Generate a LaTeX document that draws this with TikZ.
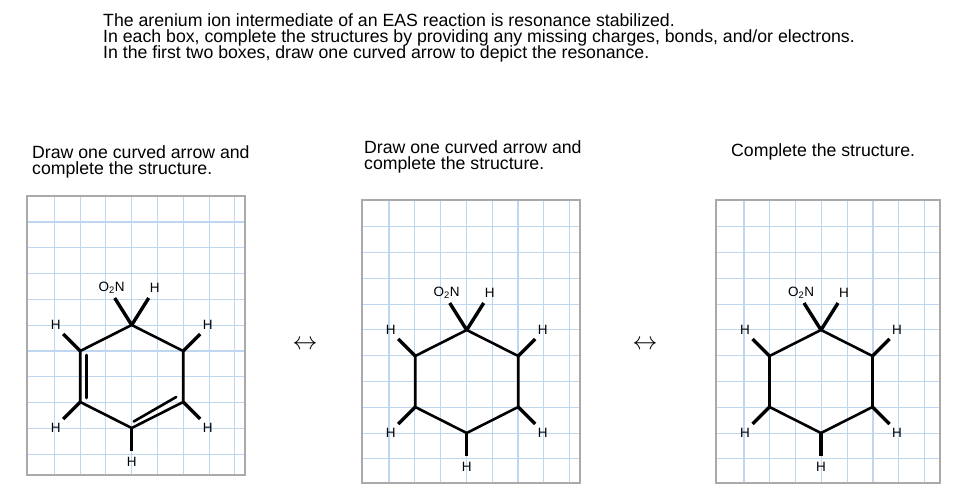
\documentclass[tikz,border=0pt]{standalone}
\usepackage{fontspec}
\setmainfont{Liberation Sans}
\usetikzlibrary{calc}
\begin{document}
\begin{tikzpicture}[x=1pt,y=-1pt,
  gridl/.style={draw={rgb,255:red,190;green,214;blue,240},line width=1.1pt},
  boxb/.style={draw={rgb,255:red,170;green,170;blue,170},line width=1.5pt},
  ringb/.style={line width=2.6pt,line cap=round},
  hb/.style={line width=3.4pt},
  hl/.style={font=\fontsize{13.5}{14}\selectfont,inner sep=0pt},
  txt/.style={font=\fontsize{17.7}{19}\selectfont,inner sep=0pt,anchor=north west,align=left}]
\useasboundingbox (0,0) rectangle (966,498);
\fill[white] (0,0) rectangle (966,498);
\node[txt] (title) at (103,13) {The arenium ion intermediate of an EAS reaction is resonance stabilized.\\[-3pt]In each box, complete the structures by providing any missing charges, bonds, and/or electrons.\\[-3pt]In the first two boxes, draw one curved arrow to depict the resonance.};
\node[txt] (s1) at (32,145) {Draw one curved arrow and\\[-3pt]complete the structure.};
\node[txt] (s2) at (364,140) {Draw one curved arrow and\\[-3pt]complete the structure.};
\node[txt] (s3) at (731,143) {Complete the structure.};
\node (ar1) at (305,345) {\fontsize{26}{26}\selectfont$\leftrightarrow$};
\node (ar2) at (645,345) {\fontsize{26}{26}\selectfont$\leftrightarrow$};
% boxes with grids
\foreach \bx/\by/\bw/\bh/\ox/\oy in {27/196/218/279/54.3/222, 362/200/218/283/389/226.7, 716/200/224/283/744/226.7}{
  \begin{scope}
    \clip (\bx,\by) rectangle ++(\bw,\bh);
    \foreach \k in {0,...,9}{
      \draw[gridl] (\ox+\k*25.8,\by) -- ++(0,\bh);
      \draw[gridl] (\bx,\oy+\k*25.8) -- ++(\bw,0);
    }
  \end{scope}
  \draw[boxb] (\bx,\by) rectangle ++(\bw,\bh);
}
% rings
\foreach \cx/\cy/\n in {131.7/325/1, 466.7/330/2, 821/330/3}{
  \begin{scope}[shift={(\cx,\cy)}]
    \coordinate (a\n) at (0,0);
    \coordinate (b\n) at (-51.5,26);
    \coordinate (c\n) at (-51.5,77);
    \coordinate (d\n) at (0,103);
    \coordinate (e\n) at (51.5,77);
    \coordinate (f\n) at (51.5,26);
    \draw[ringb] (a\n) -- (b\n) -- (c\n) -- (d\n) -- (e\n) -- (f\n) -- cycle;
    \draw[hb] (a\n) -- (-17,-27);
    \draw[hb] (a\n) -- (17,-27);
    \draw[hb] (b\n) -- ++(-17,-17);
    \draw[hb] (f\n) -- ++(17,-17);
    \draw[hb] (c\n) -- ++(-17,17);
    \draw[hb] (e\n) -- ++(17,17);
    \draw[hb] (d\n) -- ++(0,23);
    \node[hl] (no\n) at (-20,-37) {O\textsubscript{2}N};
    \node[hl] (ht\n) at (23,-37) {H};
    \node[hl] (hb\n) at (-76,0) {H};
    \node[hl] (hf\n) at (76,0) {H};
    \node[hl] (hc\n) at (-76,103) {H};
    \node[hl] (he\n) at (76,103) {H};
    \node[hl] (hd\n) at (0,137) {H};
  \end{scope}
}
% double bonds in box 1
\draw[ringb] ($(b1)+(6,4)$) -- ($(c1)+(6,-4)$);
\draw[ringb] ($(d1)+(2,-6.5)$) -- ($(e1)+(-7,-5)$);
\end{tikzpicture}
\end{document}
